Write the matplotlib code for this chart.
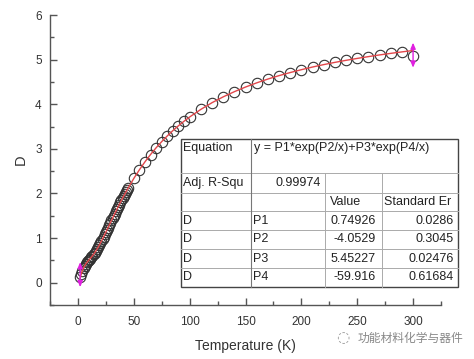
import matplotlib
matplotlib.use('Agg')
from matplotlib import pyplot as plt
from matplotlib.patches import Rectangle
from matplotlib.lines import Line2D

plt.rcParams['font.family'] = ['Liberation Sans', 'DejaVu Sans']

temp = [2, 3, 4, 5, 6, 7, 8, 9, 10, 11, 12, 13, 14, 15, 16, 17, 18, 19, 20,
        21, 22, 23, 24, 25, 26, 27, 28, 29, 30, 31, 32, 33, 34, 35, 36, 37,
        38, 39, 40, 41, 42, 43, 44, 45, 50, 55, 60, 65, 70, 75, 80, 85, 90,
        95, 100, 110, 120, 130, 140, 150, 160, 170, 180, 190, 200, 210, 220,
        230, 240, 250, 260, 270, 280, 290, 300]
D_meas = [0.13, 0.194, 0.272, 0.333, 0.381, 0.421, 0.454, 0.484, 0.513, 0.542,
          0.571, 0.603, 0.636, 0.672, 0.710, 0.751, 0.793, 0.838, 0.885, 0.932,
          0.981, 1.031, 1.082, 1.133, 1.185, 1.237, 1.290, 1.342, 1.394, 1.446,
          1.498, 1.550, 1.601, 1.651, 1.701, 1.751, 1.800, 1.848, 1.896, 1.943,
          1.989, 2.035, 2.080, 2.124, 2.336, 2.530, 2.709, 2.873, 3.024, 3.162,
          3.290, 3.409, 3.518, 3.619, 3.714, 3.884, 4.034, 4.165, 4.281, 4.385,
          4.479, 4.564, 4.641, 4.710, 4.774, 4.834, 4.888, 4.938, 4.984, 5.027,
          5.067, 5.105, 5.140, 5.173, 5.09]
# fitted curve (red line)
D_fit = [0.10] + D_meas[1:-1] + [5.204]

err_ends = [(2, -0.10, 0.46), (300, 4.82, 5.38)]

table_rows = [
    ('D', 'P1', '0.74926', '0.0286'),
    ('D', 'P2', '-4.0529', '0.3045'),
    ('D', 'P3', '5.45227', '0.02476'),
    ('D', 'P4', '-59.916', '0.61684'),
]
equation = 'y = P1*exp(P2/x)+P3*exp(P4/x)'
adj_r2 = '0.99974'

W, H = 474, 359
fig = plt.figure(figsize=(W / 100, H / 100), dpi=100)
ax = fig.add_axes([50 / W, 1 - 305 / H, (441 - 50) / W, (305 - 15) / H])

ax.plot(temp, D_meas, 'o', ms=7.5, mfc='none', mec='#333333', mew=0.8, zorder=2)
ax.plot(temp, D_fit, '-', color='#e2474b', lw=1.0, zorder=3)
for t, lo, hi in err_ends:
    ax.annotate('', xy=(t, hi), xytext=(t, lo),
                arrowprops=dict(arrowstyle='<|-|>,head_length=0.35,head_width=0.15',
                                color='#e020e0', lw=1.0, shrinkA=0, shrinkB=0),
                zorder=4)

ax.set_xlim(-25, 325)
ax.set_ylim(-0.5, 6)
ax.set_xticks([0, 50, 100, 150, 200, 250, 300])
ax.set_xticks([-25, 25, 75, 125, 175, 225, 275, 325], minor=True)
ax.set_yticks([0, 1, 2, 3, 4, 5, 6])
ax.set_yticks([-0.5, 0.5, 1.5, 2.5, 3.5, 4.5, 5.5], minor=True)
for s in ['top', 'right']:
    ax.spines[s].set_visible(False)
for s in ['left', 'bottom']:
    ax.spines[s].set_color('#555555')
    ax.spines[s].set_linewidth(1.0)
ax.tick_params(which='major', direction='in', length=5, width=1, color='#555555',
               labelsize=8.5, labelcolor='#333333', pad=6)
ax.tick_params(axis='x', which='major', pad=8)
ax.tick_params(which='minor', direction='in', length=3, width=1, color='#555555')
ax.set_xlabel('Temperature (K)', fontsize=10, color='#333333', labelpad=8)
ax.set_ylabel('D', fontsize=10.5, color='#333333', labelpad=5)

# fit result table
def px(x, y):
    return x / W, 1 - y / H

x0, x1, x2, x3, x4 = 180.5, 250.5, 325, 381.5, 457.5
ys = [139, 173, 193, 211, 230, 249, 268, 287]
fx0, fy0 = px(x0, ys[-1])
fx1, fy1 = px(x4, ys[0])
fig.add_artist(Rectangle((fx0, fy0), fx1 - fx0, fy1 - fy0, transform=fig.transFigure,
                         facecolor='white', edgecolor='#444444', lw=1.0, zorder=5))
inner = dict(color='#aaaaaa', lw=0.7, zorder=6)
for y in ys[1:-1]:
    a, b = px(x0, y), px(x4, y)
    fig.add_artist(Line2D([a[0], b[0]], [a[1], b[1]], transform=fig.transFigure, **inner))
a, b = px(x1, ys[0]), px(x1, ys[-1])
fig.add_artist(Line2D([a[0], b[0]], [a[1], b[1]], transform=fig.transFigure,
                      color='#777777', lw=0.8, zorder=6))
for x in [x2, x3]:
    a, b = px(x, ys[1]), px(x, ys[-1])
    fig.add_artist(Line2D([a[0], b[0]], [a[1], b[1]], transform=fig.transFigure, **inner))

tk = dict(fontsize=9, color='#222222', va='center', zorder=7)
fig.text(*px(183, 148), 'Equation', ha='left', **tk)
fig.text(*px(254, 148), equation, ha='left', **tk)
fig.text(*px(183, 183), 'Adj. R-Squ', ha='left', **tk)
fig.text(*px(321, 183), adj_r2, ha='right', **tk)
fig.text(*px(330, 202), 'Value', ha='left', **tk)
fig.text(*px(384, 202), 'Standard Er', ha='left', **tk)
for i, (name, par, val, err) in enumerate(table_rows):
    yc = (ys[3 + i] + ys[4 + i]) / 2
    fig.text(*px(183, yc), name, ha='left', **tk)
    fig.text(*px(253, yc), par, ha='left', **tk)
    fig.text(*px(376, yc), val, ha='right', **tk)
    fig.text(*px(454, yc), err, ha='right', **tk)

# watermark
fig.text(*px(343, 338), '\u25cc', fontsize=11, color='#999999', ha='center', va='center',
         family=['DejaVu Sans'])
fig.text(*px(358, 338), '功能材料化学与器件', fontsize=8.5, color='#888888',
         ha='left', va='center', family=['Noto Sans CJK SC', 'DejaVu Sans'])

fig.savefig('out.png', dpi=100)
